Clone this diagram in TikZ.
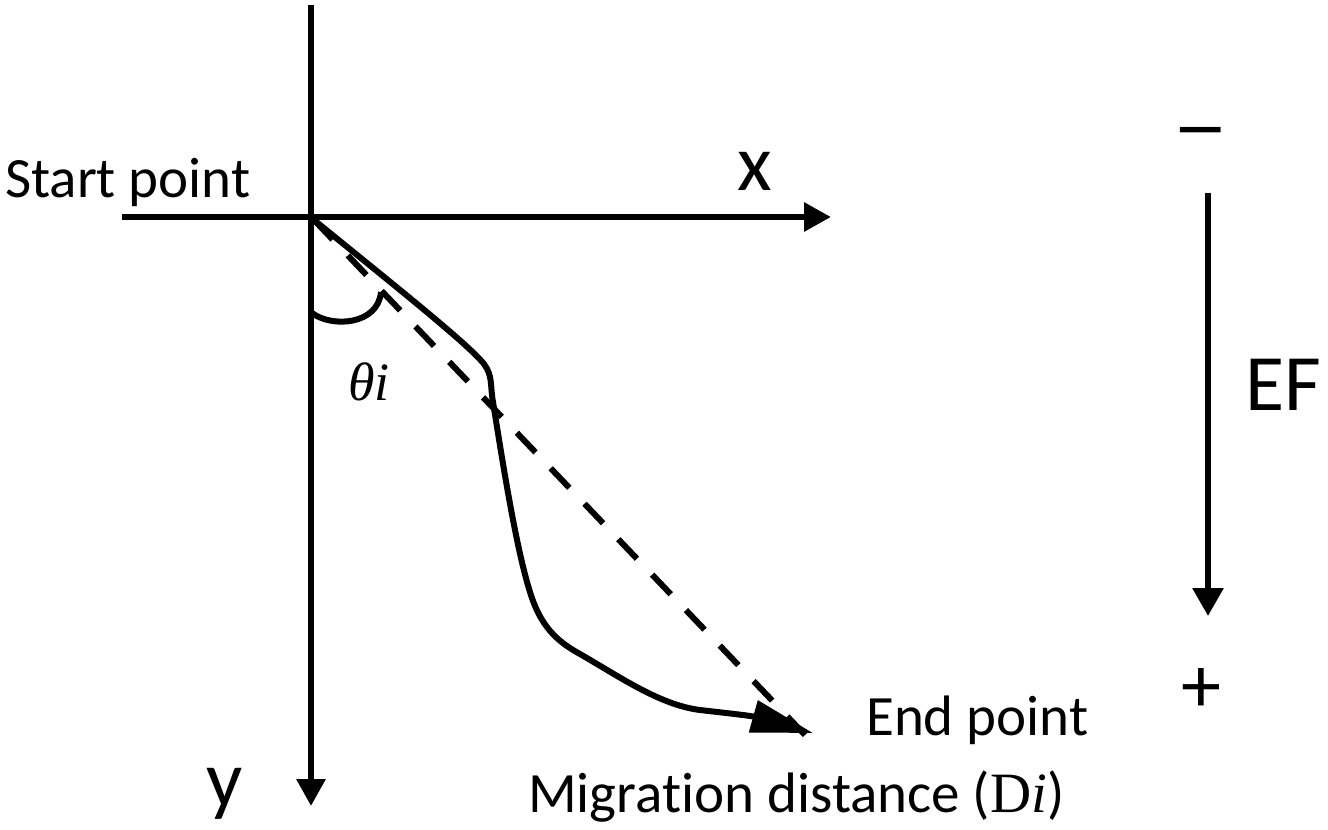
\documentclass[tikz,border=0pt]{standalone}
\usepackage{fontspec}
\setmainfont{Carlito}[Ligatures={NoCommon,NoRequired,NoContextual}]
\newfontfamily\mathserif{Liberation Serif}
\newfontfamily\symfont{DejaVu Sans}
\usetikzlibrary{arrows.meta}
\begin{document}
\begin{tikzpicture}[x=1pt,y=-1pt,
  thick line/.style={line width=6pt},
  axis/.style={line width=6pt,-{Triangle[length=27pt,width=28pt]}},
  lbl/.style={inner sep=0pt,font=\fontsize{57}{66}\selectfont},
  big/.style={inner sep=0pt,font=\fontsize{80}{90}\selectfont}]
\useasboundingbox (0,0) rectangle (1328,830);
\coordinate (O) at (311,217);
\coordinate (yl) at (311,5);
\coordinate (yt) at (311,806);
\coordinate (xl) at (122,217);
\coordinate (xt) at (831,217);
\draw[thick line] (yl) -- (O);
\draw[axis] (O) -- (yt);
\draw[thick line] (xl) -- (O);
\draw[axis] (O) -- (xt);
\node[big,anchor=base] (xlab) at (755,190) {x};
\node[big,anchor=base] (ylab) at (225,806) {y};
\node[lbl,anchor=base west] (sp) at (5,197) {Start point};
% dashed line
\coordinate (S) at (314,220);
\coordinate (E) at (805,735);
\draw[thick line,dash pattern=on 27pt off 22pt] (S) -- (E);
% trajectory
\coordinate (T) at (813,733);
\draw[thick line,-{Triangle[length=62pt,width=32pt]}]
  (S) .. controls (400,290) and (468,344) .. (484,364)
  .. controls (493,376) and (490,386) .. (493,402)
  .. controls (500,445) and (515,545) .. (530,592)
  .. controls (540,625) and (556,641) .. (580,654)
  .. controls (620,677) and (660,705) .. (700,710)
  .. controls (735,714) and (752,716) .. (T);
% angle arc
\coordinate (a1) at (312,313);
\coordinate (a2) at (381,292);
\draw[thick line] (a1) .. controls (332,328) and (378,325) .. (a2);
\node[inner sep=0pt,anchor=base west,font=\fontsize{54}{60}\mathserif\itshape] (th) at (348,400) {θi};
% EF arrow
\coordinate (ef1) at (1208,193);
\coordinate (ef2) at (1208,616);
\draw[thick line,-{Triangle[length=28pt,width=30pt]}] (ef1) -- (ef2);
\node[big,anchor=base west] (ef) at (1245,410) {EF};
\node[inner sep=0pt,font=\fontsize{65}{70}\symfont,anchor=base] (minus) at (1201,150) {−};
\node[big,anchor=center] (plus) at (1201,690) {+};
\node[lbl,anchor=base west] (ep) at (866,735) {End point};
\node[lbl,anchor=base west] (md) at (528,812) {Migration distance ({\mathserif D\itshape i})};
\end{tikzpicture}
\end{document}
